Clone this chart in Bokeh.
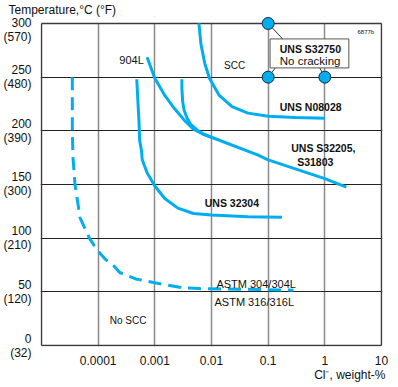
from bokeh.plotting import figure
from bokeh.models import FixedTicker, Label, Title, BoxAnnotation
from bokeh.embed import file_html
from bokeh.resources import INLINE

CYAN = "#00AEEF"
FONT = "Liberation Sans"
INK = "#111111"
FRAME = "#3a3a3a"

# ---- axes ----
x_min, x_max = 1e-5, 10
t_min, t_max = 0, 300
x_ticks = [1e-4, 1e-3, 1e-2, 1e-1, 1, 10]
x_tick_labels = ["0.0001", "0.001", "0.01", "0.1", "1", "10"]
y_ticks = [0, 50, 100, 150, 200, 250, 300]
y_tick_c = ["0", "50", "100", "150", "200", "250", "300"]
y_tick_f = ["(32)", "(120)", "(210)", "(300)", "(390)", "(480)", "(570)"]

# ---- curves (Cl- weight-%, temperature °C) ----
astm304_cl = [3.5e-5, 3.5e-5, 3.6e-5, 3.9e-5, 4.8e-5, 7e-5, 9.6e-5, 1.3e-4, 1.9e-4,
              2.4e-4, 4.6e-4, 1e-3, 2.9e-3, 6.2e-3, 0.03, 0.28]
astm304_t = [250, 200, 175, 150, 119, 100, 89, 81, 74, 68, 62, 58.5, 54, 53, 52.5, 51.5]

uns32304_cl = [4.8e-4, 5.0e-4, 5.25e-4, 5.4e-4, 5.8e-4, 6.0e-4, 7.3e-4, 1e-3, 1.5e-3,
               2.55e-3, 4.8e-3, 1e-2, 0.044, 0.175]
uns32304_t = [248, 230, 209, 191, 182, 173, 161, 148.6, 137, 128, 123, 121.6, 120, 119.5]

n904l_cl = [7.3e-4, 1e-3, 1.5e-3, 2.2e-3, 3.3e-3, 4.8e-3, 7e-3, 1e-2]
n904l_t = [268.5, 249, 233, 221, 210, 201.5, 197, 194]

s32205_cl = [3.0e-3, 3.0e-3, 3.1e-3, 3.3e-3, 3.7e-3, 4.3e-3, 5.5e-3, 7.2e-3, 1e-2,
             0.065, 0.1, 1.0, 2.4]
s32205_t = [248, 240, 227, 219, 212, 206, 201, 197, 194, 177.5, 173, 155.5, 147.5]

n08028_cl = [6.0e-3, 6.5e-3, 7.6e-3, 9.2e-3, 0.0137, 0.023, 0.044, 0.1, 0.3, 1.0]
n08028_t = [300, 281, 263, 249, 233, 222.5, 216.5, 213.5, 212.5, 211.7]

# UNS S32750: no cracking points
s32750_cl = [0.1, 0.1, 1.0]
s32750_t = [300, 250, 250]

# small padding around the chart area so that the frame lines and the
# marker on the top edge are drawn in full
xpad = 0.0172
p = figure(width=390, height=386, x_axis_type="log",
           x_range=(x_min * 10 ** -xpad, x_max * 10 ** xpad), y_range=(-0.93, 306.5),
           output_backend="svg", toolbar_location=None,
           min_border_left=31, min_border_right=8, min_border_top=16, min_border_bottom=40)

p.background_fill_color = "white"
p.border_fill_color = "white"
p.outline_line_color = None

# title (y-axis caption)
p.title.text = "Temperature,°C (°F)"
p.title.align = "left"
p.title.offset = -32
p.title.text_font = FONT
p.title.text_font_size = "12px"
p.title.text_font_style = "normal"
p.title.text_color = INK
p.title.standoff = 0

# x axis
xa = p.xaxis[0]
xa.ticker = FixedTicker(ticks=x_ticks, minor_ticks=[])
xa.major_label_overrides = {t: l for t, l in zip(x_ticks, x_tick_labels)}
xa.axis_line_color = None
xa.major_tick_line_color = None
xa.minor_tick_line_color = None
xa.major_label_standoff = 3
xa.major_label_text_font = FONT
xa.major_label_text_font_size = "12px"
xa.major_label_text_color = INK

# y axis
ya = p.yaxis[0]
ya.ticker = FixedTicker(ticks=y_ticks, minor_ticks=[])
y_over = {}
for t, c, f in zip(y_ticks, y_tick_c, y_tick_f):
    y_over[t] = (("\n" if t == y_ticks[-1] else "") + c + "\n" + f)
ya.major_label_overrides = y_over
ya.axis_line_color = None
ya.major_tick_line_color = None
ya.minor_tick_line_color = None
ya.major_label_standoff = 3
ya.major_label_text_font = FONT
ya.major_label_text_font_size = "12px"
ya.major_label_text_line_height = 1.0
ya.major_label_text_color = INK

# grids
p.xgrid.ticker = FixedTicker(ticks=x_ticks[:-1])
p.xgrid.grid_line_color = "#8a8a8a"
p.xgrid.grid_line_width = 1.5
p.ygrid.ticker = FixedTicker(ticks=y_ticks[1:-1])
p.ygrid.grid_line_color = "#222222"
p.ygrid.grid_line_width = 1
# hide grid above the 300 °C edge
p.add_layout(BoxAnnotation(bottom=t_max, fill_color="white", fill_alpha=1,
                           line_color=None, level="underlay"))

# chart border
p.segment(x0=[x_min, x_max, x_min, x_min], y0=[t_min, t_min, t_max, t_min],
          x1=[x_min, x_max, x_max, x_max], y1=[t_max, t_max, t_max, t_min],
          line_color=FRAME, line_width=1.5)

# x-axis caption
p.add_layout(Title(text="Cl\u207b, weight-%", align="right", offset=-3, standoff=0,
                   vertical_align="top",
                   text_font=FONT, text_font_size="12px", text_font_style="normal",
                   text_color=INK), "below")

# curves
LW = 3
p.line(astm304_cl, astm304_t, line_color=CYAN, line_width=LW, line_dash="13 7")
p.line(uns32304_cl, uns32304_t, line_color=CYAN, line_width=LW)
p.line(n904l_cl, n904l_t, line_color=CYAN, line_width=LW)
p.line(s32205_cl, s32205_t, line_color=CYAN, line_width=LW)
p.line(n08028_cl, n08028_t, line_color=CYAN, line_width=LW)

# callout connectors, box, circles
p.segment(x0=s32750_cl, y0=s32750_t, x1=[0.2, 0.15, 0.75], y1=[283, 262, 262],
          line_color="#333333", line_width=1)
p.quad(left=[0.108], right=[2.65], bottom=[258.6], top=[285.6],
       fill_color="white", line_color="#555555", line_width=1)
p.scatter(s32750_cl, s32750_t, size=12, fill_color=CYAN, line_color="#1a2a3a", line_width=1)

def lab(text, x, y, size="11px", style="normal", align="left"):
    p.add_layout(Label(x=x, y=y, text=text, text_font=FONT, text_font_size=size,
                       text_font_style=style, text_align=align, text_baseline="middle",
                       text_color=INK))

lab("904L", 6.4e-4, 266, align="right")
lab("SCC", 0.0255, 260.4, size="10px", align="center")
lab("UNS S32750", 0.16, 276.6, size="10.5px", style="bold")
lab("No cracking", 0.16, 264.9, size="11.5px")
lab("UNS N08028", 0.16, 222.5, size="10.5px", style="bold")
lab("UNS S32205,", 0.255, 183.8, size="10.5px", style="bold")
lab("S31803", 0.325, 171.2, size="10.5px", style="bold")
lab("UNS 32304", 7.6e-3, 132.4, size="10.5px", style="bold")
lab("ASTM 304/304L", 0.0122, 57.7)
lab("ASTM 316/316L", 0.0113, 40.5)
lab("No SCC", 1.6e-4, 23.4, size="10px")
lab("6877b", 3.77, 291.9, size="6px")

open("out.html", "w").write(file_html(p, INLINE))
